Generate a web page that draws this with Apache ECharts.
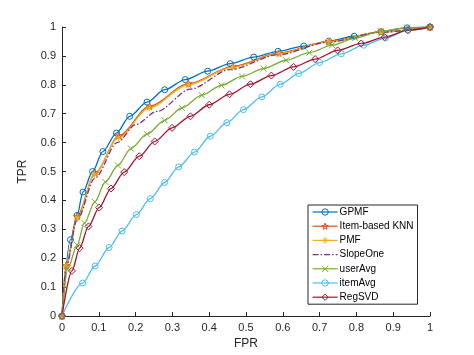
<!DOCTYPE html>
<html>
<head>
<meta charset="utf-8">
<script src="https://cdn.jsdelivr.net/npm/echarts@6/dist/echarts.min.js"></script>
<style>
html,body{margin:0;padding:0;background:#fff;}
#c{width:474px;height:355px;}
</style>
</head>
<body>
<div id="c"></div>
<script>
var seriesNames = ['GPMF', 'Item-based KNN', 'PMF', 'SlopeOne', 'userAvg', 'itemAvg', 'RegSVD'];

var gpmf = [[0,0],[0.023,0.264],[0.041,0.348],[0.057,0.429],[0.083,0.50],[0.111,0.569],[0.148,0.633],[0.184,0.691],[0.231,0.740],[0.279,0.783],[0.335,0.818],[0.396,0.847],[0.457,0.873],[0.521,0.896],[0.587,0.916],[0.657,0.934],[0.725,0.951],[0.794,0.968],[0.867,0.984],[0.938,0.997],[1,1]];
var knn = [[0,0],[0.011,0.175],[0.041,0.345],[0.090,0.495],[0.155,0.624],[0.238,0.726],[0.344,0.804],[0.465,0.864],[0.590,0.910],[0.725,0.950],[0.867,0.983],[1,1]];
var pmf = [[0,0],[0.011,0.172],[0.042,0.340],[0.088,0.490],[0.153,0.617],[0.237,0.720],[0.343,0.800],[0.463,0.860],[0.590,0.908],[0.725,0.949],[0.867,0.983],[1,1]];
var slopeOne = [[0,0],[0.011,0.165],[0.040,0.330],[0.090,0.478],[0.150,0.600],[0.200,0.662],[0.258,0.708],[0.349,0.785],[0.457,0.853],[0.590,0.905],[0.725,0.948],[0.867,0.982],[1,1]];
var userAvg = [[0,0],[0.016,0.165],[0.041,0.245],[0.061,0.322],[0.089,0.395],[0.118,0.464],[0.152,0.521],[0.187,0.579],[0.231,0.629],[0.279,0.677],[0.326,0.720],[0.380,0.764],[0.433,0.798],[0.489,0.829],[0.548,0.856],[0.609,0.885],[0.672,0.911],[0.734,0.937],[0.797,0.962],[0.867,0.985],[0.938,0.998],[1,1]];
var itemAvg = [[0,0],[0.056,0.114],[0.090,0.173],[0.128,0.237],[0.163,0.294],[0.202,0.351],[0.240,0.406],[0.279,0.462],[0.317,0.516],[0.360,0.567],[0.403,0.622],[0.448,0.669],[0.493,0.714],[0.543,0.758],[0.593,0.802],[0.643,0.839],[0.700,0.877],[0.759,0.907],[0.820,0.937],[0.879,0.962],[0.940,0.989],[1,1]];
var regSVD = [[0,0],[0.027,0.156],[0.048,0.235],[0.072,0.310],[0.101,0.375],[0.133,0.441],[0.169,0.498],[0.210,0.553],[0.252,0.604],[0.299,0.651],[0.349,0.691],[0.400,0.731],[0.455,0.767],[0.512,0.802],[0.569,0.832],[0.629,0.862],[0.688,0.889],[0.749,0.919],[0.813,0.943],[0.877,0.965],[0.940,0.989],[1,1]];

var xTicks = [0,0.1,0.2,0.3,0.4,0.5,0.6,0.7,0.8,0.9,1];
var yTicks = [0,0.1,0.2,0.3,0.4,0.5,0.6,0.7,0.8,0.9,1];

var colors = ['#0072BD','#D95319','#EDB120','#7E2F8E','#77AC30','#4DBEEE','#A2142F'];
var starPath = 'path://M50,0 L61.8,36.2 L100,36.2 L69.1,58.5 L80.9,95 L50,72.4 L19.1,95 L30.9,58.5 L0,36.2 L38.2,36.2 Z';
var asteriskPath = 'path://M50,0L50,100M0,50L100,50M15,15L85,85M85,15L15,85';
var xPath = 'path://M0,0L100,100M100,0L0,100';
var symbols = ['circle', starPath, asteriskPath, 'none', xPath, 'circle', 'diamond'];
var sizes = [6, 7, 7, 0, 6, 6, 7];
var dataSets = [gpmf, knn, pmf, slopeOne, userAvg, itemAvg, regSVD];
var FONT = 'Liberation Sans, Arial, Helvetica, sans-serif';
var CLEAR = 'rgba(255,255,255,0)';

var series = seriesNames.map(function (n, i) {
  return {
    name: n,
    type: 'line',
    data: dataSets[i],
    smooth: 0.3,
    smoothMonotone: 'x',
    showSymbol: symbols[i] !== 'none',
    symbol: symbols[i],
    symbolSize: sizes[i],
    lineStyle: { color: colors[i], width: 1.3, type: i === 3 ? [6, 2, 1.5, 2] : 'solid' },
    itemStyle: { color: CLEAR, borderColor: colors[i], borderWidth: 1 },
    emphasis: { disabled: true },
    animation: false
  };
});

var legendData = seriesNames.map(function (n, i) {
  return {
    name: n,
    itemStyle: i === 3 ? { opacity: 0 } : { color: CLEAR, borderColor: colors[i], borderWidth: 1 },
    lineStyle: { color: colors[i], width: 1.2 }
  };
});

var chart = echarts.init(document.getElementById('c'), null, { renderer: 'canvas' });
chart.setOption({
  backgroundColor: '#fff',
  animation: false,
  grid: { left: 62, top: 27, width: 368, height: 289, containLabel: false },
  xAxis: {
    type: 'value', min: 0, max: 1, interval: 0.1,
    name: 'FPR', nameLocation: 'middle', nameGap: 17,
    nameTextStyle: { fontFamily: FONT, fontSize: 12, color: '#262626' },
    axisLine: { show: true, lineStyle: { color: '#262626', width: 1 } },
    axisTick: { show: true, inside: true, length: 4, lineStyle: { color: '#262626' } },
    axisLabel: { fontFamily: FONT, fontSize: 11, color: '#262626', margin: 6,
      formatter: function (v) { var t = xTicks.filter(function (k) { return Math.abs(k - v) < 1e-9; }); return t.length ? String(t[0]) : ''; } },
    splitLine: { show: false }
  },
  yAxis: {
    type: 'value', min: 0, max: 1, interval: 0.1,
    name: 'TPR', nameLocation: 'middle', nameGap: 33, nameRotate: 90,
    nameTextStyle: { fontFamily: FONT, fontSize: 12, color: '#262626' },
    axisLine: { show: true, lineStyle: { color: '#262626', width: 1 } },
    axisTick: { show: true, inside: true, length: 4, lineStyle: { color: '#262626' } },
    axisLabel: { fontFamily: FONT, fontSize: 11, color: '#262626', margin: 6,
      formatter: function (v) { var t = yTicks.filter(function (k) { return Math.abs(k - v) < 1e-9; }); return t.length ? String(t[0]) : ''; } },
    splitLine: { show: false }
  },
  legend: {
    data: legendData,
    orient: 'vertical',
    left: 308, top: 205,
    padding: [1, 4, 1, 4],
    itemGap: 2.2,
    itemWidth: 25,
    itemHeight: 8,
    borderColor: '#262626',
    borderWidth: 1,
    borderRadius: 0,
    backgroundColor: '#fff',
    textStyle: { fontFamily: FONT, fontSize: 10, lineHeight: 12, color: '#000', padding: [0, 0, 0, -3] },
    selectedMode: false
  },
  series: series
});
</script>
</body>
</html>
